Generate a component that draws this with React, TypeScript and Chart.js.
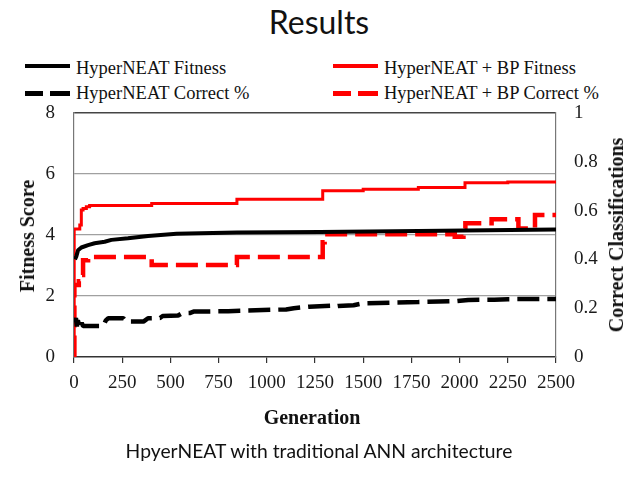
import React, { useEffect, useRef } from "react";
import { Chart, registerables } from "chart.js";

Chart.register(...registerables);

// ---- Data ----
const generationTicks = [0, 250, 500, 750, 1000, 1250, 1500, 1750, 2000, 2250, 2500];

// HyperNEAT + BP Fitness (red solid, stepped)
const bpFitnessGen = [0, 1, 30, 38, 47, 64, 81, 403, 845, 1290, 1500, 1786, 2028, 2250, 2500];
const bpFitnessVal = [0, 4.2, 4.33, 4.82, 4.87, 4.93, 4.97, 5.03, 5.17, 5.45, 5.5, 5.56, 5.71, 5.74, 5.75];

// HyperNEAT + BP Correct % (red dashed, stepped, right axis)
const bpCorrectGen = [0, 2, 25, 38, 47, 73, 403, 845, 1290, 1300, 1975, 2020, 2030, 2166, 2305, 2391, 2500];
const bpCorrectVal = [0, 0.295, 0.31, 0.336, 0.397, 0.41, 0.377, 0.41, 0.47, 0.503, 0.493, 0.527, 0.548, 0.565, 0.527, 0.582, 0.582];

// HyperNEAT Fitness (black solid)
const neatFitnessGen = [5, 12, 21, 38, 73, 107, 159, 194, 280, 384, 532, 845, 1276, 1786, 2500];
const neatFitnessVal = [3.2, 3.3, 3.5, 3.59, 3.67, 3.73, 3.78, 3.84, 3.89, 3.97, 4.04, 4.08, 4.1, 4.13, 4.18];

// HyperNEAT Correct % (black dashed, right axis)
const neatCorrectGen = [5, 10, 15, 20, 30, 40, 47, 152, 165, 178, 256, 270, 360, 384, 446, 460, 540, 560, 600, 620, 800, 860, 1100, 1140, 1220, 1330, 1340, 1370, 1450, 1500, 1786, 1985, 2045, 2180, 2250, 2500];
const neatCorrectVal = [0.14, 0.16, 0.125, 0.15, 0.12, 0.14, 0.127, 0.127, 0.15, 0.159, 0.159, 0.145, 0.145, 0.159, 0.16, 0.168, 0.17, 0.179, 0.18, 0.186, 0.188, 0.19, 0.195, 0.2, 0.206, 0.21, 0.205, 0.209, 0.212, 0.22, 0.225, 0.229, 0.234, 0.235, 0.237, 0.238];

const legendLabels = [
  "HyperNEAT Fitness",
  "HyperNEAT Correct %",
  "HyperNEAT + BP Fitness",
  "HyperNEAT + BP Correct %",
];

const toPoints = (xs: number[], ys: number[]) => xs.map((x, i) => ({ x, y: ys[i] }));

const SERIF = "'Liberation Serif', 'Times New Roman', serif";
const SANS = "Lato, 'Open Sans', sans-serif";
const RED = "#ff0000";

export default function App() {
  const ref = useRef<HTMLCanvasElement>(null);

  useEffect(() => {
    const canvas = ref.current;
    if (!canvas) return;
    const chart = new Chart(canvas, {
      type: "line",
      data: {
        datasets: [
          {
            label: legendLabels[0],
            data: toPoints(neatFitnessGen, neatFitnessVal),
            borderColor: "#000",
            borderWidth: 4,
            borderJoinStyle: "round",
            yAxisID: "y",
            tension: 0,
          },
          {
            label: legendLabels[1],
            data: toPoints(neatCorrectGen, neatCorrectVal),
            borderColor: "#000",
            borderWidth: 4.5,
            borderDash: [22, 8],
            borderJoinStyle: "bevel",
            yAxisID: "y1",
            tension: 0,
          },
          {
            label: legendLabels[2],
            data: toPoints(bpFitnessGen, bpFitnessVal),
            borderColor: RED,
            borderWidth: 3,
            stepped: true,
            yAxisID: "y",
          },
          {
            label: legendLabels[3],
            data: toPoints(bpCorrectGen, bpCorrectVal),
            borderColor: RED,
            borderWidth: 4.5,
            borderDash: [22, 8],
            stepped: true,
            yAxisID: "y1",
          },
        ],
      },
      options: {
        responsive: false,
        animation: false,
        layout: { padding: { top: 113, left: 0, right: 0, bottom: 0 } },
        elements: { point: { radius: 0 }, line: { fill: false } },
        plugins: { legend: { display: false }, tooltip: { enabled: false }, title: { display: false } },
        scales: {
          x: {
            type: "linear",
            min: 0,
            max: 2500,
            afterBuildTicks: (scale: any) => {
              scale.ticks = generationTicks.map((v) => ({ value: v }));
            },
            ticks: {
              font: { family: SERIF, size: 19 },
              color: "#1a1a1a",
              padding: 9,
              maxRotation: 0,
              autoSkip: false,
              callback: (v: any) => String(v),
            },
            grid: { drawOnChartArea: false, tickLength: 6, color: "#333", lineWidth: 1.2 },
            border: { color: "#333", width: 1.5 },
            afterFit: (scale: any) => {
              scale.height = 121;
            },
          },
          y: {
            type: "linear",
            position: "left",
            min: 0,
            max: 8,
            ticks: {
              stepSize: 2,
              font: { family: SERIF, size: 19 },
              color: "#1a1a1a",
              padding: 19,
              callback: (v: any) => String(v),
            },
            grid: {
              drawTicks: false,
              color: (c: any) => (c.tick.value === 8 ? "#444" : c.tick.value === 0 ? "rgba(0,0,0,0)" : "#a0a0a0"),
              lineWidth: (c: any) => (c.tick.value === 8 ? 1.5 : 1.2),
            },
            border: { color: "#777", width: 1.2 },
            afterFit: (scale: any) => {
              scale.width = 74;
            },
          },
          y1: {
            type: "linear",
            position: "right",
            min: 0,
            max: 1,
            ticks: {
              stepSize: 0.2,
              font: { family: SERIF, size: 19 },
              color: "#1a1a1a",
              padding: 18,
              callback: (v: any) => String(Math.round(Number(v) * 10) / 10),
            },
            grid: { drawOnChartArea: false, drawTicks: false },
            border: { color: "#777", width: 1.2 },
            afterFit: (scale: any) => {
              scale.width = 82;
            },
          },
        },
      },
    } as any);
    return () => chart.destroy();
  }, []);

  const legendText: React.CSSProperties = {
    position: "absolute",
    fontFamily: SERIF,
    fontSize: 18.5,
    lineHeight: "22px",
    color: "#111",
    whiteSpace: "nowrap",
  };
  const solid = (left: number, top: number, color: string) => (
    <div style={{ position: "absolute", left, top, width: 45, height: 4, background: color }} />
  );
  const dashed = (left: number, top: number, color: string) => (
    <>
      <div style={{ position: "absolute", left, top, width: 18, height: 4.5, background: color }} />
      <div style={{ position: "absolute", left: left + 25, top, width: 20, height: 4.5, background: color }} />
    </>
  );
  const axisTitle: React.CSSProperties = {
    position: "absolute",
    fontFamily: SERIF,
    fontWeight: "bold",
    fontSize: 20,
    lineHeight: "24px",
    color: "#111",
    whiteSpace: "nowrap",
  };

  return (
    <div style={{ position: "fixed", left: 0, top: 0, width: 638, height: 478, background: "#fff", overflow: "hidden" }}>
      <div
        style={{
          position: "absolute",
          left: 0,
          width: 638,
          top: 3,
          textAlign: "center",
          fontFamily: SANS,
          fontSize: 32,
          lineHeight: "38px",
          color: "#111",
        }}
      >
        Results
      </div>

      {solid(25, 64, "#000")}
      <div style={{ ...legendText, left: 76, top: 57 }}>{legendLabels[0]}</div>
      {dashed(25, 91, "#000")}
      <div style={{ ...legendText, left: 76, top: 82 }}>{legendLabels[1]}</div>
      {solid(333, 64, RED)}
      <div style={{ ...legendText, left: 384, top: 57 }}>{legendLabels[2]}</div>
      {dashed(333, 91, RED)}
      <div style={{ ...legendText, left: 384, top: 82 }}>{legendLabels[3]}</div>

      <canvas ref={ref} width={638} height={478} style={{ position: "absolute", left: 0, top: 0, width: 638, height: 478 }} />

      <div style={{ ...axisTitle, left: 27, top: 236, transform: "translate(-50%, -50%) rotate(-90deg)" }}>Fitness Score</div>
      <div style={{ ...axisTitle, left: 616, top: 235, transform: "translate(-50%, -50%) rotate(-90deg)" }}>
        Correct Classifications
      </div>
      <div style={{ ...axisTitle, left: 312, top: 405, transform: "translateX(-50%)" }}>Generation</div>

      <div
        style={{
          position: "absolute",
          left: 0,
          width: 638,
          top: 439,
          textAlign: "center",
          fontFamily: SANS,
          fontSize: 19.3,
          lineHeight: "23px",
          color: "#111",
        }}
      >
        HpyerNEAT with traditional ANN architecture
      </div>
    </div>
  );
}
